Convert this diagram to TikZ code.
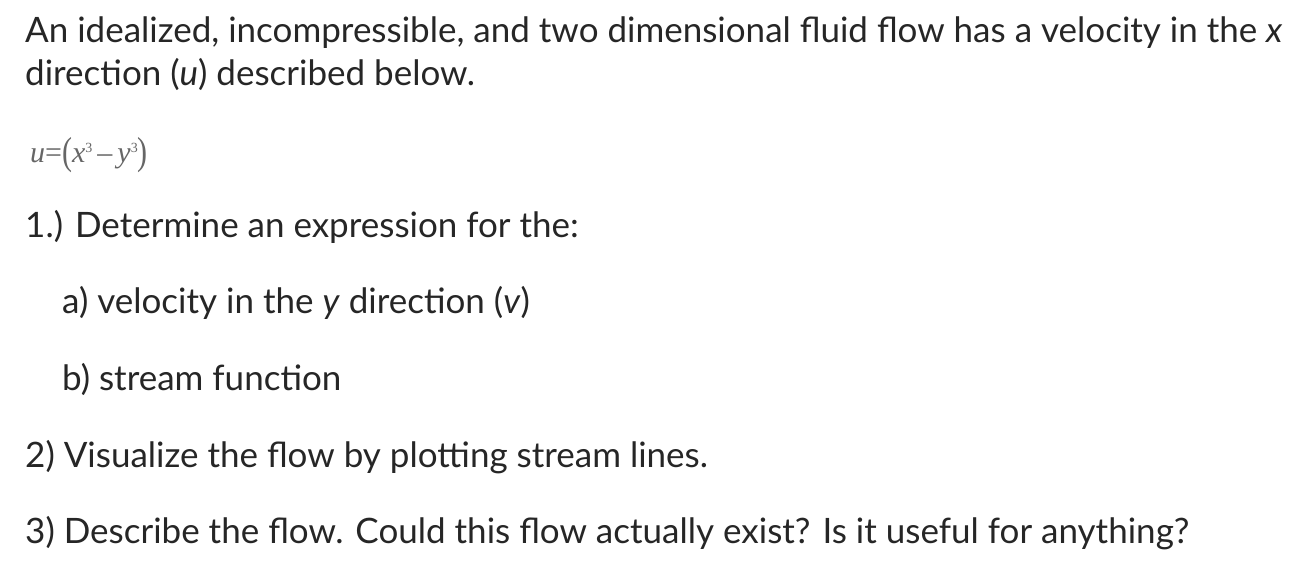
\documentclass[tikz,border=0pt]{standalone}
\usepackage{fontspec}
\setmainfont{Lato}
\newfontfamily\eqfont{Liberation Serif}
\begin{document}
\begin{tikzpicture}[x=1pt,y=-1pt,
  txt/.style={anchor=base west,inner sep=0pt,font=\fontsize{35}{40}\selectfont,text=black!85}]
\useasboundingbox (0,0) rectangle (1296,582);
\node[txt] (l1) at (25,42) {An idealized, incompressible, and two dimensional fluid flow has a velocity in the \textit{x}};
\node[txt] (l2) at (25,85) {direction (\textit{u}) described below.};
\node[anchor=base west,inner sep=0pt,font=\eqfont\fontsize{30}{34}\selectfont,text=black!60] (eq) at (30,162) {\textit{u}=\raisebox{-2pt}{\scalebox{1}[1.3]{(}}\textit{x}\raisebox{10pt}{\fontsize{14}{14}\selectfont 3}\,–\,\textit{y}\raisebox{10pt}{\fontsize{14}{14}\selectfont 3}\raisebox{-2pt}{\scalebox{1}[1.3]{)}}};
\node[txt] (q1) at (25,237) {1.) Determine an expression for the:};
\node[txt] (qa) at (62,313) {a) velocity in the \textit{y} direction (\textit{v})};
\node[txt] (qb) at (62,390) {b) stream function};
\node[txt] (q2) at (25,467) {2) Visualize the flow by plotting stream lines.};
\node[txt] (q3) at (25,543) {3) Describe the flow. Could this flow actually exist? Is it useful for anything?};
\end{tikzpicture}
\end{document}
